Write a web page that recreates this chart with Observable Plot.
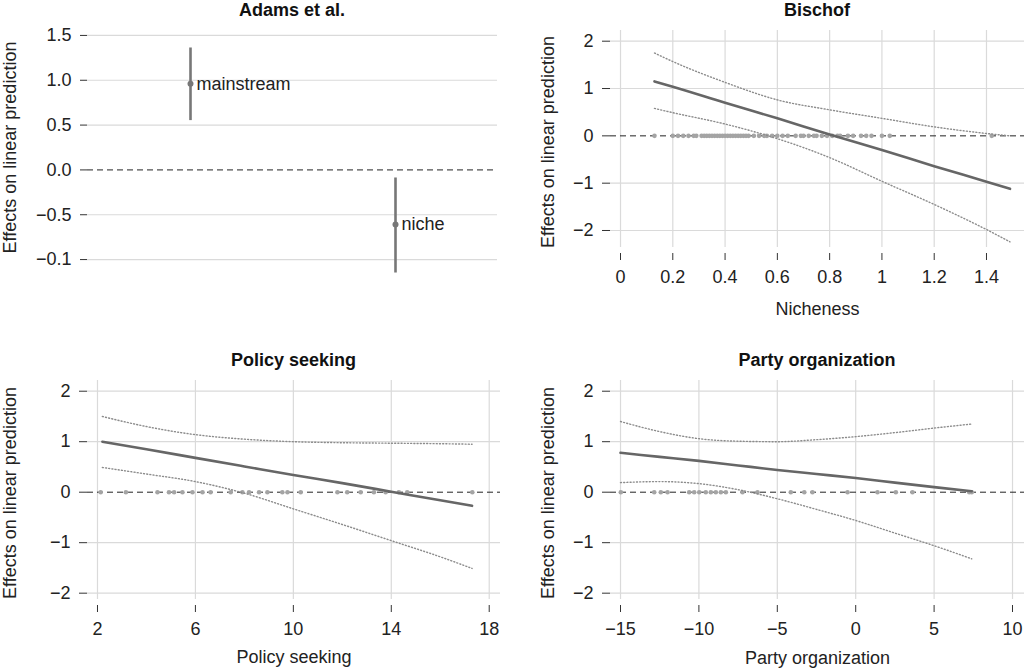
<!DOCTYPE html>
<html><head><meta charset="utf-8">
<script src="https://cdn.jsdelivr.net/npm/d3@7"></script>
<script src="https://cdn.jsdelivr.net/npm/@observablehq/plot@0.6"></script>
<style>
html,body{margin:0;padding:0;background:#fff;}
#root{position:relative;width:1024px;height:668px;overflow:hidden;font-family:"Liberation Sans",Arial,Helvetica,sans-serif;}
.panel{position:absolute;}
.title{position:absolute;font-weight:bold;font-size:18px;line-height:18px;text-align:center;color:#111;white-space:nowrap;font-family:"Liberation Sans",Arial,Helvetica,sans-serif;}
</style></head><body><div id="root"></div>
<script>
// ---------- Data ----------
const yTitle = "Effects on linear prediction";

// Panel 1: Adams et al.
const adamsCategories = ["mainstream", "niche"];
const adamsEstimate = [0.96, -0.61];
const adamsLower = [0.55, -1.15];
const adamsUpper = [1.36, -0.09];
const adamsYTicks = [1.5, 1.0, 0.5, 0.0, -0.5, -1.0];
const adamsYTickLabels = ["1.5", "1.0", "0.5", "0.0", "\u22120.5", "\u22120.1"];

// Shared y ticks for panels 2-4
const effYTicks = [2, 1, 0, -1, -2];
const effYTickLabels = ["2", "1", "0", "\u22121", "\u22122"];

// Panel 2: Bischof
const bischofX = [0.13, 0.2, 0.4, 0.6, 0.8, 1.0, 1.2, 1.4, 1.49];
const bischofFit = [1.15, 1.04, 0.70, 0.37, 0.03, -0.30, -0.64, -0.97, -1.12];
const bischofUpper = [1.75, 1.57, 1.13, 0.76, 0.55, 0.37, 0.19, 0.05, 0.0];
const bischofLower = [0.58, 0.49, 0.25, -0.06, -0.46, -0.96, -1.45, -1.98, -2.24];
const bischofRug = [0.13, 0.2, 0.22, 0.24, 0.26, 0.28, 0.29, 0.31, 0.32, 0.33, 0.34, 0.35, 0.36, 0.37, 0.38, 0.39, 0.4, 0.41, 0.42, 0.43, 0.44, 0.45, 0.46, 0.47, 0.48, 0.49, 0.51, 0.53, 0.55, 0.56, 0.58, 0.6, 0.62, 0.64, 0.67, 0.69, 0.7, 0.72, 0.74, 0.75, 0.77, 0.79, 0.81, 0.83, 0.84, 0.87, 0.89, 0.92, 0.94, 0.96, 1.0, 1.03, 1.42];
const bischofXTicks = [0, 0.2, 0.4, 0.6, 0.8, 1, 1.2, 1.4];
const bischofXTickLabels = ["0", "0.2", "0.4", "0.6", "0.8", "1", "1.2", "1.4"];

// Panel 3: Policy seeking
const policyX = [2.2, 4, 6, 8, 10, 12, 14, 16, 17.3];
const policyFit = [1.0, 0.85, 0.68, 0.51, 0.34, 0.18, 0.01, -0.16, -0.27];
const policyUpper = [1.50, 1.30, 1.14, 1.05, 1.0, 0.98, 0.97, 0.96, 0.95];
const policyLower = [0.49, 0.36, 0.21, -0.02, -0.33, -0.64, -0.96, -1.28, -1.51];
const policyRug = [2.13, 3.16, 4.45, 4.92, 5.13, 5.47, 5.88, 6.29, 6.62, 7.44, 7.92, 8.19, 8.6, 8.94, 9.55, 9.76, 10.3, 11.8, 12.2, 12.75, 13.29, 13.77, 14.31, 14.65, 17.31];
const policyXTicks = [2, 6, 10, 14, 18];
const policyXTickLabels = ["2", "6", "10", "14", "18"];

// Panel 4: Party organization
const partyX = [-15, -12.5, -10, -7.5, -5, -2.5, 0, 2.5, 5, 7.4];
const partyFit = [0.78, 0.70, 0.62, 0.53, 0.44, 0.36, 0.28, 0.19, 0.10, 0.02];
const partyUpper = [1.40, 1.20, 1.06, 1.01, 1.00, 1.04, 1.10, 1.18, 1.27, 1.35];
const partyLower = [0.19, 0.21, 0.17, 0.05, -0.13, -0.34, -0.56, -0.81, -1.06, -1.32];
const partyRug = [-14.98, -12.85, -12.43, -12.0, -10.62, -10.3, -9.98, -9.56, -9.24, -8.92, -8.6, -8.28, -7.22, -6.26, -4.14, -3.28, -2.76, -0.52, 1.39, 2.56, 3.62, 7.24, 7.4];
const partyXTicks = [-15, -10, -5, 0, 5, 10];
const partyXTickLabels = ["\u221215", "\u221210", "\u22125", "0", "5", "10"];

// ---------- Styles ----------
const FONT = "'Liberation Sans', Arial, Helvetica, sans-serif";
const GRID = "#dadada";
const FIT = "#666666";
const CI = "#8c8c8c";
const RUG = "#a4a4a4";
const ZERO = "#222222";
const AXIS = "#333333";
const plotStyle = {fontFamily: FONT, fontSize: "18px", color: "#222", background: "transparent", overflow: "visible"};

const root = document.getElementById("root");
function place(node, left, top) {
  const d = document.createElement("div");
  d.className = "panel";
  d.style.left = left + "px";
  d.style.top = top + "px";
  d.appendChild(node);
  root.appendChild(d);
}
function addTitle(text, left, width, top) {
  const t = document.createElement("div");
  t.className = "title";
  t.textContent = text;
  t.style.left = left + "px";
  t.style.width = width + "px";
  t.style.top = top + "px";
  root.appendChild(t);
}
const fmt = (ticks, labels) => d => labels[ticks.indexOf(d)];

// ---------- Panel 1 ----------
{
  const data = adamsCategories.map((c, i) => ({category: c, estimate: adamsEstimate[i], lower: adamsLower[i], upper: adamsUpper[i]}));
  const W = 512, ML = 87, MR = 15, MT = 17, MB = 10, FH = 260;
  const chart = Plot.plot({
    width: W, height: MT + FH + MB, marginLeft: ML, marginRight: MR, marginTop: MT, marginBottom: MB,
    style: plotStyle,
    x: {type: "point", domain: adamsCategories, padding: 0.5, axis: null},
    y: {domain: [-1.2, 1.7]},
    marks: [
      Plot.gridY(adamsYTicks.filter(d => d !== 0), {stroke: GRID, strokeOpacity: 1, strokeWidth: 1.2}),
      Plot.ruleY([0], {stroke: ZERO, strokeDasharray: "6,4", strokeWidth: 1}),
      Plot.ruleX(data, {x: "category", y1: "lower", y2: "upper", stroke: "#777", strokeWidth: 2.6}),
      Plot.dot(data, {x: "category", y: "estimate", r: 3, fill: "#777", stroke: "none"}),
      Plot.text(data, {x: "category", y: "estimate", text: "category", textAnchor: "start", dx: 6, fontSize: 18, fill: "#222"}),
      Plot.axisY({ticks: adamsYTicks, tickFormat: fmt(adamsYTicks, adamsYTickLabels), tickSize: 7, tickPadding: 9, stroke: AXIS,
        label: yTitle, labelAnchor: "center", labelArrow: "none"})
    ]
  });
  place(chart, 0, 0);
  addTitle("Adams et al.", ML, W - ML - MR, 1);
}

// ---------- Line panels ----------
function linePanel(o) {
  const rows = arr => o.x.map((x, i) => ({x, y: arr[i]}));
  const FH = o.frameHeight;
  const chart = Plot.plot({
    width: o.width, height: o.marginTop + FH + o.marginBottom,
    marginLeft: o.marginLeft, marginRight: o.marginRight, marginTop: o.marginTop, marginBottom: o.marginBottom,
    style: plotStyle,
    x: {domain: o.xDomain},
    y: {domain: o.yDomain},
    marks: [
      Plot.gridY(effYTicks.filter(d => d !== 0), {stroke: GRID, strokeOpacity: 1, strokeWidth: 1.2}),
      Plot.gridX(o.xTicks, {stroke: GRID, strokeOpacity: 1, strokeWidth: 1.2, insetBottom: 6}),
      Plot.ruleY([0], {stroke: ZERO, strokeDasharray: "6,4", strokeWidth: 1}),
      Plot.dot(o.rug, {x: d => d, y: () => 0, r: 2.3, fill: RUG, stroke: "none"}),
      Plot.line(rows(o.upper), {x: "x", y: "y", curve: "monotone-x", stroke: CI, strokeWidth: 1.4, strokeDasharray: "1,2.2"}),
      Plot.line(rows(o.lower), {x: "x", y: "y", curve: "monotone-x", stroke: CI, strokeWidth: 1.4, strokeDasharray: "1,2.2"}),
      Plot.line(rows(o.fit), {x: "x", y: "y", curve: "monotone-x", stroke: FIT, strokeWidth: 2.6}),
      Plot.axisY({ticks: effYTicks, tickFormat: fmt(effYTicks, effYTickLabels), tickSize: 8, tickPadding: 9, stroke: AXIS,
        label: yTitle, labelAnchor: "center", labelArrow: "none"}),
      Plot.axisX({ticks: o.xTicks, tickFormat: fmt(o.xTicks, o.xTickLabels), tickSize: 7, tickPadding: 10, stroke: AXIS,
        label: o.xLabel, labelAnchor: "center", labelArrow: "none", labelOffset: o.labelOffset})
    ]
  });
  place(chart, o.left, o.top);
  addTitle(o.title, o.left + o.marginLeft, o.width - o.marginLeft - o.marginRight, o.titleTop);
}

linePanel({
  title: "Bischof", left: 538, top: 0, width: 486, marginLeft: 72, marginRight: 0, marginTop: 30, marginBottom: 66, frameHeight: 223,
  xDomain: [-0.0383, 1.5454], yDomain: [-2.486, 2.226], xTicks: bischofXTicks, xTickLabels: bischofXTickLabels,
  xLabel: "Nicheness", labelOffset: 61, x: bischofX, fit: bischofFit, upper: bischofUpper, lower: bischofLower, rug: bischofRug, titleTop: 1
});
linePanel({
  title: "Policy seeking", left: 0, top: 340, width: 512, marginLeft: 87, marginRight: 12, marginTop: 40, marginBottom: 63, frameHeight: 225,
  xDomain: [1.592, 18.461], yDomain: [-2.244, 2.212], xTicks: policyXTicks, xTickLabels: policyXTickLabels,
  xLabel: "Policy seeking", labelOffset: 57.5, x: policyX, fit: policyFit, upper: policyUpper, lower: policyLower, rug: policyRug, titleTop: 351
});
linePanel({
  title: "Party organization", left: 538, top: 340, width: 486, marginLeft: 72, marginRight: 0, marginTop: 40, marginBottom: 63, frameHeight: 225,
  xDomain: [-15.638, 10.765], yDomain: [-2.244, 2.212], xTicks: partyXTicks, xTickLabels: partyXTickLabels,
  xLabel: "Party organization", labelOffset: 58, x: partyX, fit: partyFit, upper: partyUpper, lower: partyLower, rug: partyRug, titleTop: 351
});
</script>
</body></html>
